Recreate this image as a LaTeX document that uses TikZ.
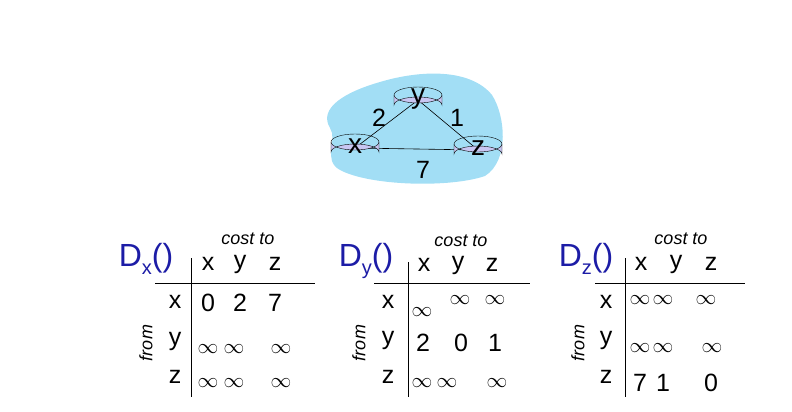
\documentclass[tikz,border=0pt]{standalone}
\usepackage{fontspec}
\setmainfont{Liberation Sans}
\usetikzlibrary{shapes.geometric}
\definecolor{cloud}{HTML}{A2DEF5}
\definecolor{rtr}{HTML}{C9C6F2}
\definecolor{dblue}{HTML}{1C1CA6}
\tikzset{
 lbl/.style={font=\fontsize{25}{25}\selectfont, inner sep=0pt},
 rlbl/.style={font=\fontsize{28}{28}\selectfont, inner sep=0pt},
 inf/.style={font=\fontsize{21}{21}\selectfont, inner sep=0pt},
 ttl/.style={font=\fontsize{32}{32}\selectfont, text=dblue, inner sep=0pt},
 cst/.style={font=\fontsize{18}{18}\selectfont\itshape, inner sep=0pt},
 rule/.style={line width=1pt},
 link/.style={line width=0.6pt},
}
\newcommand{\mysub}[1]{\raisebox{-0.25em}{\fontsize{20}{20}\selectfont #1}}
\newcommand{\router}[3]{%
 \fill[rtr] (#1-24,#2) -- (#1-24,#2+10) arc[start angle=180,end angle=360,x radius=24,y radius=8] -- (#1+24,#2) arc[start angle=0,end angle=180,x radius=24,y radius=8];
 \draw[line width=0.4pt] (#1-24,#2) -- (#1-24,#2+10) arc[start angle=180,end angle=360,x radius=24,y radius=8] -- (#1+24,#2);
 \draw[line width=0.4pt] (#1,#2) ellipse[x radius=24,y radius=8];
 \node[rlbl] (#3) at (#1,#2+4) {#3};}
\begin{document}
\begin{tikzpicture}[x=1pt,y=-1pt]
\useasboundingbox (0,0) rectangle (792,412);
\fill[cloud] (330,128) .. controls (318,108) and (345,92) .. (380,82)
 .. controls (420,70) and (470,68) .. (492,95)
 .. controls (505,115) and (510,160) .. (485,176)
 .. controls (450,188) and (370,186) .. (340,170)
 .. controls (322,160) and (338,140) .. (330,128) -- cycle;
\coordinate (cx) at (355,148); \coordinate (cy) at (418,100); \coordinate (cz) at (478,150);
\draw[link] (cx) -- (cy) -- (cz) (cx) -- (cz);
\router{355}{142}{x}
\router{418}{95}{y}
\router{478}{144}{z}
\node[lbl] (l2) at (379,118) {2};
\node[lbl] (l1) at (457,118) {1};
\node[lbl] (l7) at (423,170) {7};
% Dx
\node[ttl] (tx) at (146,259) {D\mysub{x}()};
\node[cst] (cx1) at (248,239) {cost to};
\draw[rule] (191,258) -- (191,397);
\draw[rule] (155,283) -- (315,283);
\foreach \c/\xx in {x/208,y/240,z/275}{\node[lbl] at (\xx,264) {\c};}
\foreach \c/\yy in {x/302,y/341,z/377}{\node[lbl] at (175,\yy) {\c};}
\node[cst,rotate=90] at (146,343) {from};
\node[lbl] at (208,303) {0}; \node[lbl] at (240,303) {2}; \node[lbl] at (275,303) {7};
\foreach \yy in {349,383}{\node[inf] at (208,\yy) {$\infty$};\node[inf] at (234,\yy) {$\infty$};\node[inf] at (281,\yy) {$\infty$};}
% Dy
\node[ttl] (ty) at (366,261) {D\mysub{y}()};
\node[cst] at (461,241) {cost to};
\draw[rule] (408,262) -- (408,397);
\draw[rule] (374,283) -- (530,283);
\foreach \c/\xx in {x/424,y/458,z/492}{\node[lbl] at (\xx,265) {\c};}
\foreach \c/\yy in {x/302,y/340,z/377}{\node[lbl] at (388,\yy) {\c};}
\node[cst,rotate=90] at (359,343) {from};
\node[inf] at (422,312) {$\infty$}; \node[inf] at (460,300) {$\infty$}; \node[inf] at (495,300) {$\infty$};
\node[lbl] at (423,343) {2}; \node[lbl] at (461,343) {0}; \node[lbl] at (495,343) {1};
\node[inf] at (422,383) {$\infty$}; \node[inf] at (447,383) {$\infty$}; \node[inf] at (497,383) {$\infty$};
% Dz
\node[ttl] (tz) at (586,259) {D\mysub{z}()};
\node[cst] at (681,239) {cost to};
\draw[rule] (625,258) -- (625,397);
\draw[rule] (595,283) -- (745,283);
\foreach \c/\xx in {x/641,y/676,z/711}{\node[lbl] at (\xx,264) {\c};}
\foreach \c/\yy in {x/302,y/340,z/377}{\node[lbl] at (606,\yy) {\c};}
\node[cst,rotate=90] at (578,343) {from};
\node[inf] at (640,300) {$\infty$}; \node[inf] at (663,300) {$\infty$}; \node[inf] at (706,300) {$\infty$};
\node[inf] at (640,348) {$\infty$}; \node[inf] at (663,348) {$\infty$}; \node[inf] at (712,348) {$\infty$};
\node[lbl] at (640,383) {7}; \node[lbl] at (663,383) {1}; \node[lbl] at (711,383) {0};
\end{tikzpicture}
\end{document}
